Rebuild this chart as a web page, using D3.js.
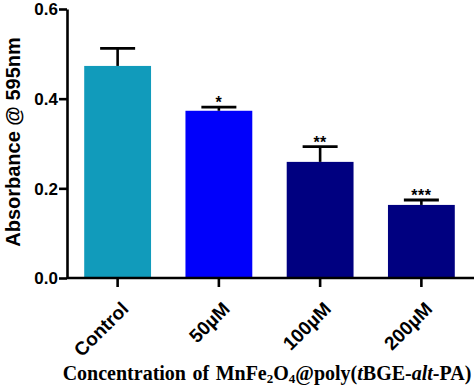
<!DOCTYPE html>
<html>
<head>
<meta charset="utf-8">
<script src="https://cdn.jsdelivr.net/npm/d3@7"></script>
<style>
  body { margin: 0; background: #fff; }
  svg { display: block; }
</style>
</head>
<body>
<script>
const categories = ['Control', '50\u00b5M', '100\u00b5M', '200\u00b5M']
const means = [0.473, 0.373, 0.259, 0.163]
const errors = [0.039, 0.008, 0.034, 0.011]
const stars = ['', '*', '**', '***']
const colors = ['#119bbb', '#0000fb', '#000080', '#000080']
const yTicks = [0, 0.2, 0.4, 0.6]

const W = 474, H = 387
const margin = { top: 9, right: 2, bottom: 109, left: 67 }

const svg = d3.select('body').append('svg').attr('width', W).attr('height', H)

const x = d3.scaleBand().domain(categories)
  .range([margin.left, W - margin.right]).paddingInner(0.34).paddingOuter(0.17)
const y = d3.scaleLinear().domain([0, 0.6]).range([H - margin.bottom, margin.top])

// bars
svg.selectAll('rect.bar').data(categories).join('rect')
  .attr('x', d => x(d))
  .attr('y', (d, i) => y(means[i]))
  .attr('width', x.bandwidth())
  .attr('height', (d, i) => y(0) - y(means[i]))
  .attr('fill', (d, i) => colors[i])

// error bars (upper only)
const capW = 35
categories.forEach((d, i) => {
  const cx = x(d) + x.bandwidth() / 2
  svg.append('line')
    .attr('x1', cx).attr('x2', cx)
    .attr('y1', y(means[i])).attr('y2', y(means[i] + errors[i]))
    .attr('stroke', '#000').attr('stroke-width', 2.6)
  svg.append('line')
    .attr('x1', cx - capW / 2).attr('x2', cx + capW / 2)
    .attr('y1', y(means[i] + errors[i])).attr('y2', y(means[i] + errors[i]))
    .attr('stroke', '#000').attr('stroke-width', 2.8)
  if (stars[i]) {
    svg.append('text')
      .attr('x', cx).attr('y', y(means[i] + errors[i]) + 1)
      .attr('text-anchor', 'middle')
      .attr('font-family', 'Liberation Sans, Arial, sans-serif')
      .attr('font-weight', 'bold').attr('font-size', 16)
      .attr('letter-spacing', 0.5)
      .text(stars[i])
  }
})

// axes
const yAxis = svg.append('g')
  .attr('transform', `translate(${margin.left},0)`)
  .call(d3.axisLeft(y).tickValues(yTicks).tickFormat(d3.format('.1f')).tickSize(8).tickSizeOuter(0))
const xAxis = svg.append('g')
  .attr('transform', `translate(0,${y(0)})`)
  .call(d3.axisBottom(x).tickSize(9).tickSizeOuter(0))

;[yAxis, xAxis].forEach(g => {
  g.select('.domain').attr('stroke', '#000').attr('stroke-width', 2.6)
  g.selectAll('.tick line').attr('stroke', '#000').attr('stroke-width', 2.6)
  g.selectAll('.tick text')
    .attr('font-family', 'Liberation Sans, Arial, sans-serif')
    .attr('font-weight', 'bold').attr('font-size', 17).attr('fill', '#000')
})
xAxis.select('.domain').attr('d', `M${margin.left},0H${W}`)
yAxis.selectAll('.tick text').attr('x', -9).attr('dy', '0.35em')

xAxis.selectAll('.tick text')
  .attr('font-size', 19)
  .attr('text-anchor', 'end')
  .attr('dy', 0)
  .attr('y', 0)
  .attr('transform', 'translate(12,32) rotate(-45)')

// y title
svg.append('text')
  .attr('transform', `translate(20,142) rotate(-90)`)
  .attr('text-anchor', 'middle')
  .attr('font-family', 'Liberation Sans, Arial, sans-serif')
  .attr('font-weight', 'bold').attr('font-size', 20)
  .text('Absorbance @ 595nm')

// x title
const xt = svg.append('text')
  .attr('x', 267).attr('y', 380)
  .attr('text-anchor', 'middle')
  .attr('font-family', 'Liberation Serif, Times New Roman, serif')
  .attr('font-weight', 'bold').attr('font-size', 20)
  .attr('word-spacing', 1.5)
xt.append('tspan').text('Concentration of MnFe')
xt.append('tspan').attr('font-size', 13).attr('dy', 3).text('2')
xt.append('tspan').attr('dy', -3).text('O')
xt.append('tspan').attr('font-size', 13).attr('dy', 3).text('4')
xt.append('tspan').attr('dy', -3).text('@poly(')
xt.append('tspan').attr('font-style', 'italic').text('t')
xt.append('tspan').text('BGE-')
xt.append('tspan').attr('font-style', 'italic').text('alt')
xt.append('tspan').text('-PA)')
</script>
</body>
</html>
